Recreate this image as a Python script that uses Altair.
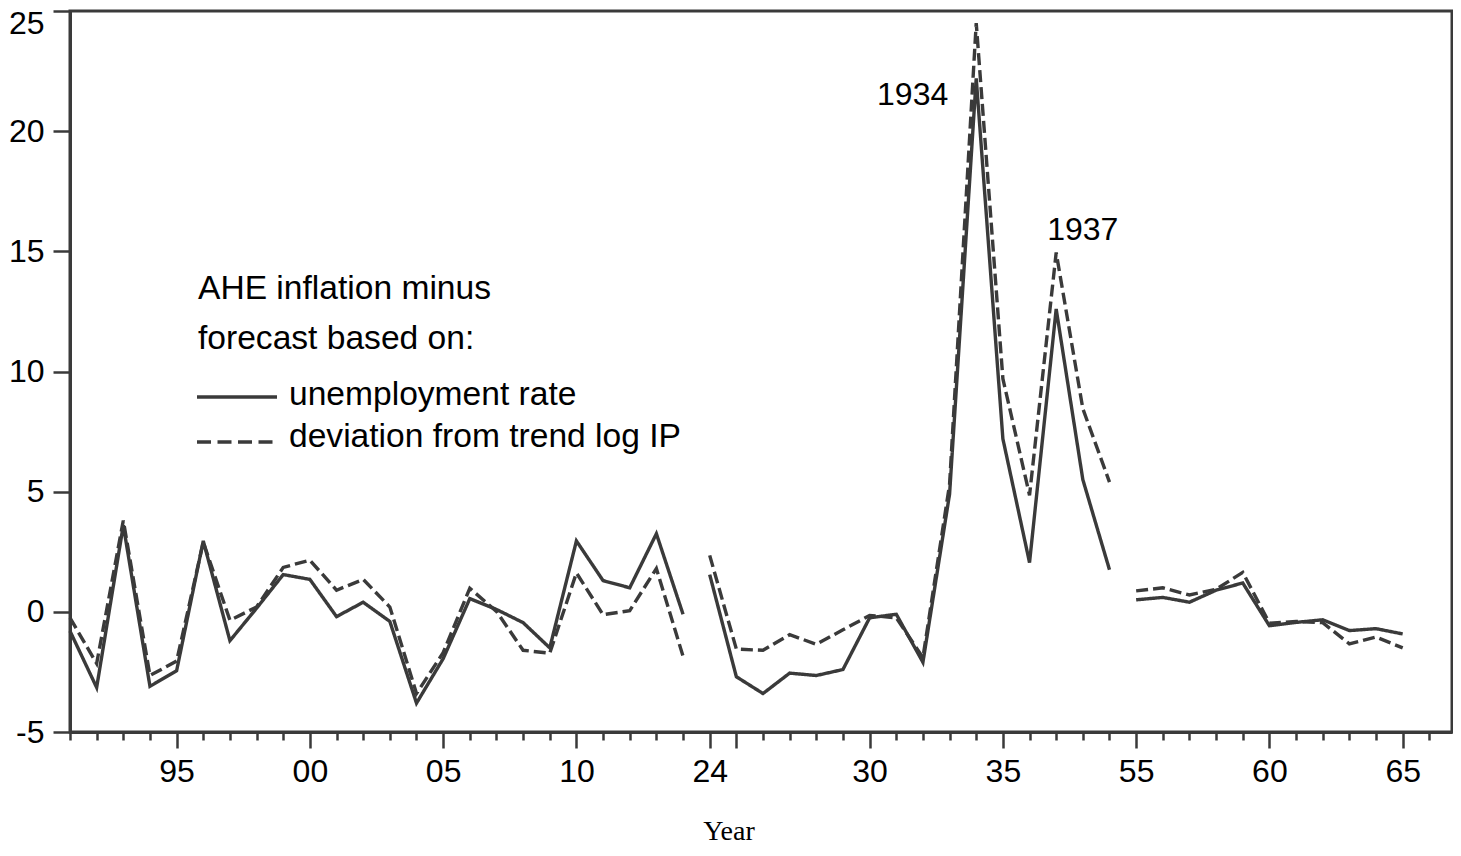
import altair as alt
import pandas as pd

# ---- data ----
years_a = list(range(1891, 1915))
unemp_a = [-0.8, -3.15, 3.6, -3.1, -2.45, 2.95, -1.2, 0.15, 1.55, 1.35, -0.2, 0.4,
           -0.4, -3.8, -1.95, 0.55, 0.1, -0.45, -1.5, 2.95, 1.3, 1.0, 3.25, -0.1]
ip_a = [-0.25, -2.15, 3.8, -2.65, -2.05, 2.9, -0.35, 0.2, 1.85, 2.15, 0.9, 1.35,
        0.2, -3.4, -1.7, 0.98, 0.02, -1.6, -1.72, 1.62, -0.12, 0.05, 1.8, -1.85]

years_b = list(range(1924, 1940))
unemp_b = [1.55, -2.7, -3.4, -2.55, -2.65, -2.4, -0.25, -0.1, -2.1, 4.9,
           22.2, 7.2, 2.05, 12.6, 5.5, 1.75]
ip_b = [2.35, -1.55, -1.6, -0.95, -1.35, -0.75, -0.15, -0.25, -1.9, 5.3,
        24.5, 9.7, 4.85, 14.95, 8.45, 5.4]

years_c = list(range(1955, 1966))
unemp_c = [0.5, 0.6, 0.4, 0.9, 1.2, -0.58, -0.44, -0.33, -0.78, -0.7, -0.92]
ip_c = [0.87, 1.0, 0.7, 0.94, 1.64, -0.47, -0.4, -0.45, -1.33, -1.05, -1.5]

series_names = ["unemployment rate", "deviation from trend log IP"]
legend_head = ["AHE inflation minus", "forecast based on:"]

tick_idx = [4, 9, 14, 19, 24, 30, 35, 40, 45, 50]
tick_text = ["95", "00", "05", "10", "24", "30", "35", "55", "60", "65"]
long_tick_idx = tick_idx + [25]
y_ticks = [-5, 0, 5, 10, 15, 20, 25]

annot_years = [1934, 1937]

# ---- build table ----
rows = []
idx = 0
for seg, (yrs, u, p) in enumerate([(years_a, unemp_a, ip_a),
                                   (years_b, unemp_b, ip_b),
                                   (years_c, unemp_c, ip_c)]):
    for k, yr in enumerate(yrs):
        rows.append({"idx": idx, "year": yr, "seg": seg, "series": series_names[0], "value": u[k]})
        rows.append({"idx": idx, "year": yr, "seg": seg, "series": series_names[1], "value": p[k]})
        idx += 1
df = pd.DataFrame(rows)

INK = "#3a3a3a"
FONT = "Liberation Sans"

arr = lambda xs: "[" + ",".join(str(v) for v in xs) + "]"
arr_s = lambda xs: "[" + ",".join("'" + v + "'" for v in xs) + "]"
label_expr = (f"indexof({arr(tick_idx)}, datum.value) >= 0 ? "
              f"{arr_s(tick_text)}[indexof({arr(tick_idx)}, datum.value)] : ''")

x_scale = alt.Scale(domain=[0, 51.85], nice=False, zero=False)
y_scale = alt.Scale(domain=[-5, 25], nice=False, zero=False)

x_axis = alt.Axis(
    values=list(range(0, 52)), tickCount=200, labelExpr=label_expr, title=None, grid=False,
    tickSize={"condition": {"test": f"indexof({arr(long_tick_idx)}, datum.value) >= 0", "value": 16}, "value": 8},
    tickWidth=2.5, tickColor=INK, domainColor=INK, domainWidth=3,
    labelFont=FONT, labelFontSize=32, labelColor="black", labelPadding=8,
    labelOverlap=False, labelFlush=False,
)
y_axis = alt.Axis(
    values=y_ticks, tickCount=50, labelExpr="'' + datum.value", title=None, grid=False,
    tickSize=17, tickWidth=2.5, tickColor=INK, domainColor=INK, domainWidth=3,
    labelFont=FONT, labelFontSize=32, labelColor="black", labelPadding=9,
    labelOffset={"condition": {"test": "datum.value == 25", "value": 12}, "value": 0},
    labelOverlap=False, labelFlush=False,
)

X = alt.X("idx:Q", scale=x_scale, axis=x_axis)
Y = alt.Y("value:Q", scale=y_scale, axis=y_axis)

lines = alt.Chart(df).mark_line(strokeWidth=3.4, color=INK, strokeCap="butt").encode(
    x=X, y=Y,
    strokeDash=alt.StrokeDash("series:N", scale=alt.Scale(domain=series_names, range=[[1, 0], [12, 5]]), legend=None),
    detail="seg:N",
    order="idx:Q",
)

# annotations anchored at the dashed-series peaks
ann = df[(df["series"] == series_names[1]) & (df["year"].isin(annot_years))].copy()
ann["label"] = ann["year"].astype(str)
ann34 = alt.Chart(ann[ann["year"] == annot_years[0]]).mark_text(
    font=FONT, fontSize=32, color="black", align="right", baseline="alphabetic", dx=-28, dy=82
).encode(x=X, y=Y, text="label:N")
ann37 = alt.Chart(ann[ann["year"] == annot_years[1]]).mark_text(
    font=FONT, fontSize=32, color="black", align="left", baseline="alphabetic", dx=-9, dy=-13
).encode(x=X, y=Y, text="label:N")

# hand-made legend (pixel placement inside the plot)
def txt(s, x, y, size=33.6, font=FONT):
    return alt.Chart(pd.DataFrame({"t": [s]})).mark_text(
        font=font, fontSize=size, color="black", align="left", baseline="alphabetic"
    ).encode(x=alt.value(x), y=alt.value(y), text="t:N")

head1 = txt(legend_head[0], 128, 288)
head2 = txt(legend_head[1], 128, 338)
lab1 = txt(series_names[0], 219, 394)
lab2 = txt(series_names[1], 219, 436)

leg_solid = alt.Chart(pd.DataFrame({"s": [series_names[0]]})).mark_rule(
    color=INK, strokeWidth=3.4, strokeCap="butt"
).encode(x=alt.value(127), x2=alt.value(207), y=alt.value(386))
leg_dash = alt.Chart(pd.DataFrame({"s": [series_names[1]]})).mark_rule(
    color=INK, strokeWidth=3.4, strokeCap="butt", strokeDash=[14, 6.5]
).encode(x=alt.value(127), x2=alt.value(207), y=alt.value(431))

xtitle = alt.Chart(pd.DataFrame({"t": ["Year"]})).mark_text(
    font="Liberation Serif", fontSize=28, color="black", align="center", baseline="alphabetic"
).encode(x=alt.value(659), y=alt.value(829), text="t:N")

chart = alt.layer(lines, ann34, ann37, head1, head2, lab1, lab2, leg_solid, leg_dash, xtitle).properties(
    width=1382, height=721,
    autosize=alt.AutoSizeParams(type="none"),
    padding={"left": 62, "top": 3, "right": 1, "bottom": 116},
    background="white",
).configure_view(stroke=INK, strokeWidth=3)

chart.save("out.html", embed_options={"renderer": "svg", "actions": False})
